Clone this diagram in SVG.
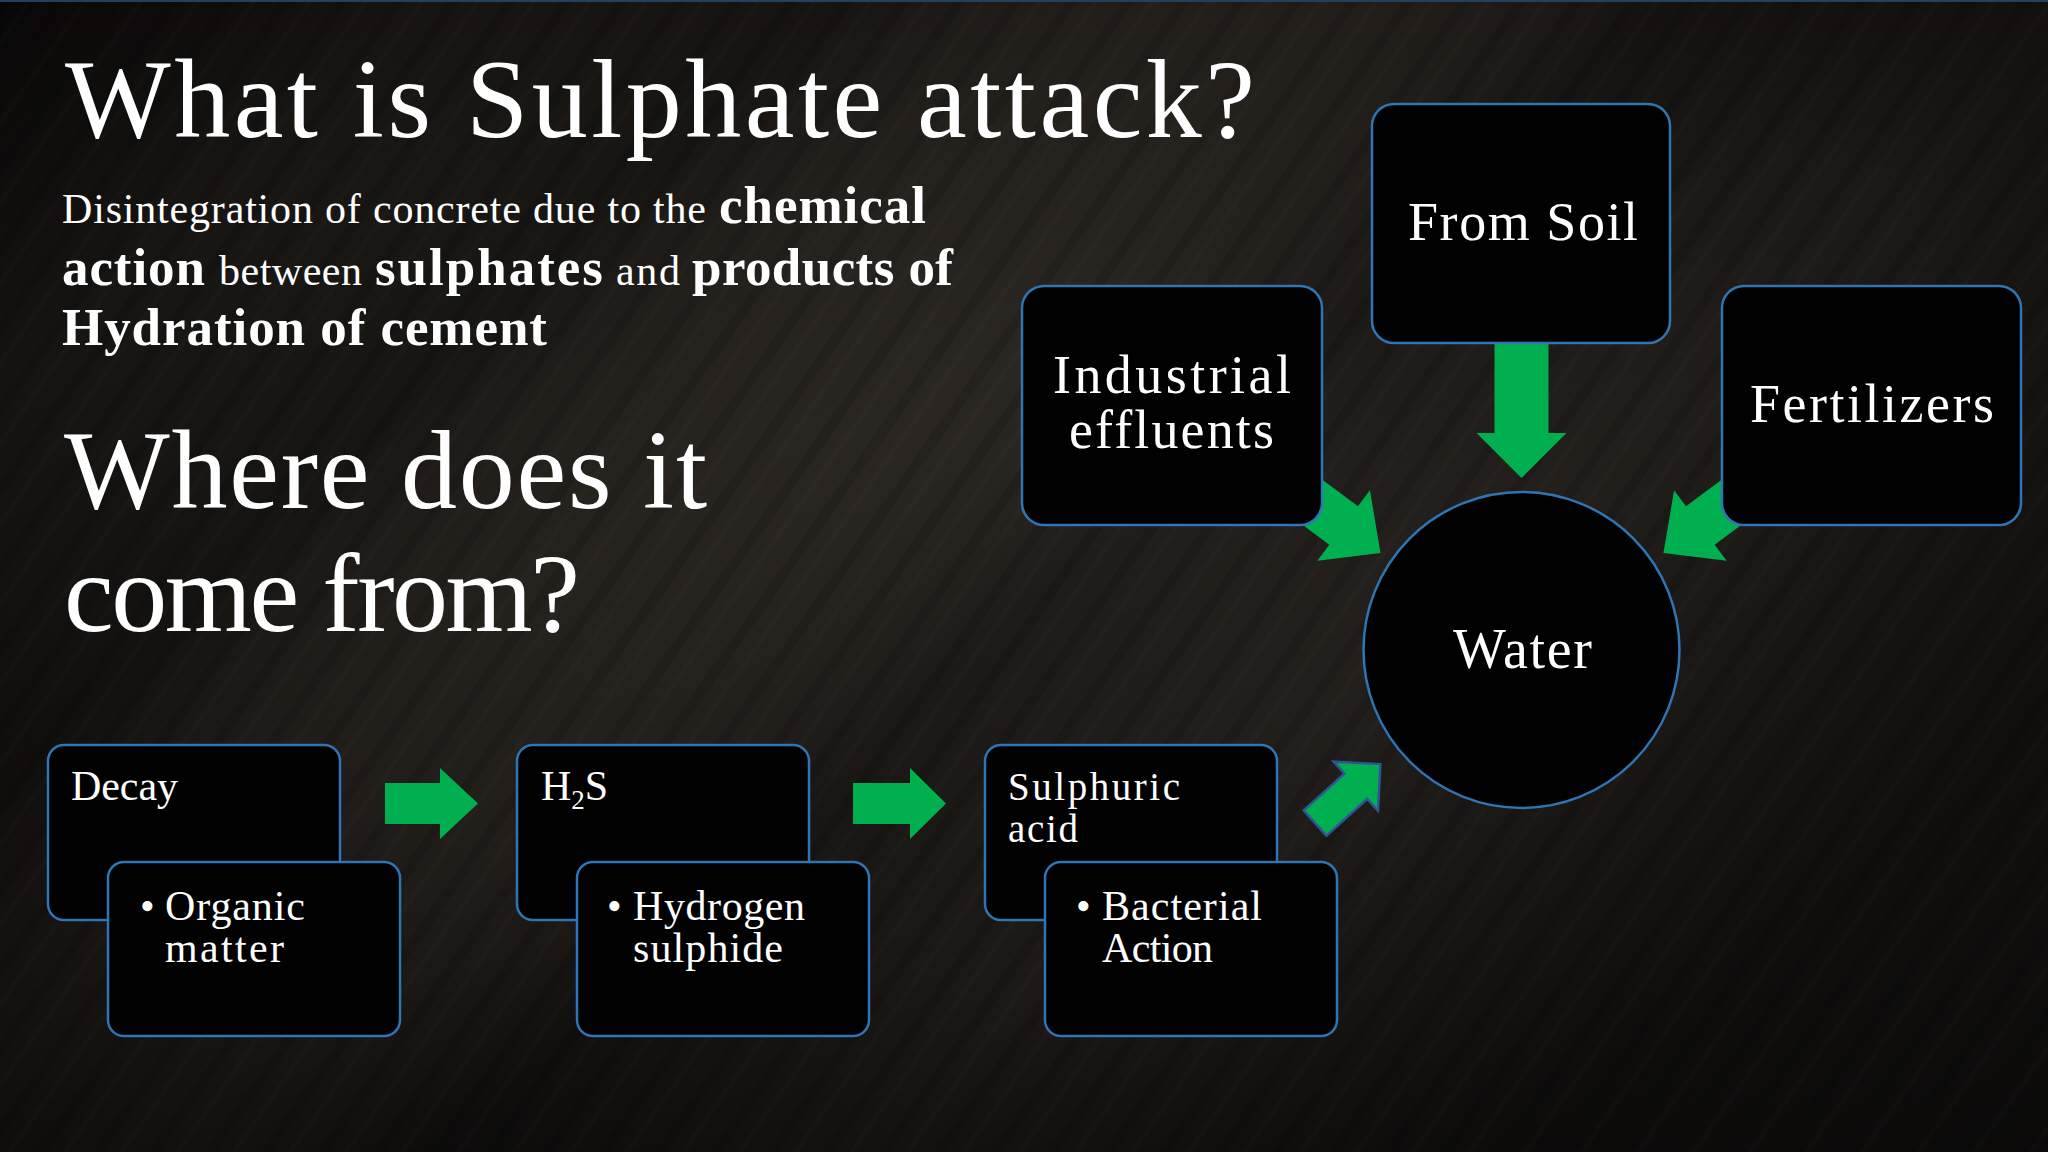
<svg xmlns="http://www.w3.org/2000/svg" width="2048" height="1152" viewBox="0 0 2048 1152">
  <style>
    .t { fill: #ffffff; font-family: 'Liberation Serif', 'DejaVu Serif', serif; }
    .b { font-weight: bold; }
    .box { fill: #010101; stroke: #2e75b6; stroke-width: 2.5; }
    .arrow { fill: #00b050; }
    .arrow-o { fill: #00b050; stroke: #2f5597; stroke-width: 2.5; stroke-linejoin: miter; }
  </style>
  <defs>
    <radialGradient id="bgGlow" cx="0.55" cy="0.42" r="0.8">
      <stop offset="0" stop-color="#2b2723"/>
      <stop offset="0.55" stop-color="#1d1a17"/>
      <stop offset="1" stop-color="#090808"/>
    </radialGradient>
    <linearGradient id="bands" x1="0" y1="0" x2="1" y2="0.6" spreadMethod="reflect">
      <stop offset="0" stop-color="#000" stop-opacity="0.45"/>
      <stop offset="0.15" stop-color="#000" stop-opacity="0.05"/>
      <stop offset="0.3" stop-color="#000" stop-opacity="0.25"/>
      <stop offset="0.45" stop-color="#5a4e42" stop-opacity="0.06"/>
      <stop offset="0.6" stop-color="#000" stop-opacity="0.25"/>
      <stop offset="0.75" stop-color="#000" stop-opacity="0.05"/>
      <stop offset="1" stop-color="#000" stop-opacity="0.4"/>
    </linearGradient>
    <pattern id="ridges" width="46" height="46" patternUnits="userSpaceOnUse" patternTransform="rotate(35)">
      <rect x="0" y="0" width="10" height="46" fill="#000" opacity="0.12"/>
      <rect x="22" y="0" width="5" height="46" fill="#fff" opacity="0.012"/>
    </pattern>
  </defs>

  <!-- background -->
  <rect x="0" y="0" width="2048" height="1152" fill="url(#bgGlow)"/>
  <rect x="0" y="0" width="2048" height="1152" fill="url(#bands)"/>
  <rect x="0" y="0" width="2048" height="1152" fill="url(#ridges)"/>
  <rect x="0" y="0" width="2048" height="2" fill="#22405f"/>

  <!-- headings -->
  <g id="title">
    <text class="t" x="65" y="137" font-size="112" textLength="1190">What is Sulphate attack?</text>
  </g>
  <g id="definition">
    <text class="t" x="62" y="223" font-size="42" textLength="644">Disintegration of concrete due to the</text>
    <text class="t b" x="719" y="223" font-size="53" textLength="207">chemical</text>
    <text class="t b" x="62" y="285" font-size="53" textLength="143">action</text>
    <text class="t" x="219" y="285" font-size="42" textLength="143">between</text>
    <text class="t b" x="375" y="285" font-size="53" textLength="228">sulphates</text>
    <text class="t" x="616" y="285" font-size="42" textLength="64">and</text>
    <text class="t b" x="692" y="285" font-size="53" textLength="261">products of</text>
    <text class="t b" x="62" y="345" font-size="53" textLength="485">Hydration of cement</text>
  </g>
  <g id="subtitle">
    <text class="t" x="64" y="508" font-size="112" textLength="643">Where does it</text>
    <text class="t" x="64" y="631" font-size="112" textLength="516">come from?</text>
  </g>

  <!-- connectors -->
  <g id="connectors">
    <polygon class="arrow" transform="translate(1279.5,477.7) rotate(36.7)" points="0,-24 80,-24 80,-44 126,0 80,44 80,24 0,24"/>
    <polygon class="arrow" transform="translate(1764.5,477.7) rotate(143.3)" points="0,-24 80,-24 80,-44 126,0 80,44 80,24 0,24"/>
    <polygon class="arrow" transform="translate(1521.5,338) rotate(90)" points="0,-27 95,-27 95,-45 140,0 95,45 95,27 0,27"/>
    <polygon class="arrow" transform="translate(385,803.5)" points="0,-20.5 55,-20.5 55,-35.5 93,0 55,35.5 55,20.5 0,20.5"/>
    <polygon class="arrow" transform="translate(853,803.5)" points="0,-20.5 57,-20.5 57,-35.5 93,0 57,35.5 57,20.5 0,20.5"/>
    <polygon class="arrow-o" transform="translate(1315,823) rotate(-42)" points="0,-17 55,-17 55,-33 88,0 55,33 55,17 0,17"/>
  </g>

  <!-- top nodes -->
  <g id="node-from-soil">
    <rect class="box" x="1372" y="104" width="298" height="239" rx="22"/>
    <text class="t" x="1408" y="240" font-size="54" textLength="230">From Soil</text>
  </g>
  <g id="node-industrial">
    <rect class="box" x="1022" y="286" width="300" height="239" rx="22"/>
    <text class="t" x="1053" y="393" font-size="54" textLength="238">Industrial</text>
    <text class="t" x="1069" y="448" font-size="54" textLength="205">effluents</text>
  </g>
  <g id="node-fertilizers">
    <rect class="box" x="1722" y="286" width="299" height="239" rx="22"/>
    <text class="t" x="1750" y="422" font-size="54" textLength="244">Fertilizers</text>
  </g>
  <g id="node-water">
    <circle class="box" cx="1521.5" cy="650" r="158"/>
    <text class="t" x="1453" y="668" font-size="56" textLength="139">Water</text>
  </g>

  <!-- bottom nodes -->
  <g id="node-decay">
    <rect class="box" x="48" y="745" width="292" height="175" rx="16"/>
    <text class="t" x="71" y="800" font-size="42" textLength="107">Decay</text>
    <rect class="box" x="108" y="862" width="292" height="174" rx="16"/>
    <text class="t" x="140" y="920" font-size="42">•</text>
    <text class="t" x="165" y="920" font-size="42" textLength="140">Organic</text>
    <text class="t" x="165" y="962" font-size="42" textLength="119">matter</text>
  </g>
  <g id="node-h2s">
    <rect class="box" x="517" y="745" width="292" height="175" rx="16"/>
    <text class="t" x="541" y="800" font-size="42">H<tspan font-size="27" dy="9">2</tspan><tspan dy="-9">S</tspan></text>
    <rect class="box" x="577" y="862" width="292" height="174" rx="16"/>
    <text class="t" x="607" y="920" font-size="42">•</text>
    <text class="t" x="633" y="920" font-size="42" textLength="172">Hydrogen</text>
    <text class="t" x="633" y="962" font-size="42" textLength="150">sulphide</text>
  </g>
  <g id="node-sulphuric">
    <rect class="box" x="985" y="745" width="292" height="175" rx="16"/>
    <text class="t" x="1008" y="800" font-size="39" textLength="172">Sulphuric</text>
    <text class="t" x="1008" y="842" font-size="39" textLength="70">acid</text>
    <rect class="box" x="1045" y="862" width="292" height="174" rx="16"/>
    <text class="t" x="1076" y="920" font-size="42">•</text>
    <text class="t" x="1102" y="920" font-size="42" textLength="160">Bacterial</text>
    <text class="t" x="1102" y="962" font-size="42" textLength="111">Action</text>
  </g>
</svg>
